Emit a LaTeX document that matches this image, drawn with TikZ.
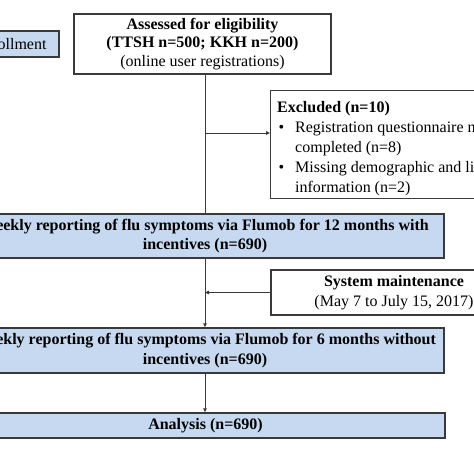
\documentclass[tikz,border=0pt]{standalone}
\usepackage{fontspec}
\setmainfont{Liberation Serif}
\usetikzlibrary{arrows.meta}
\definecolor{boxblue}{HTML}{C6D9F0}
\definecolor{linegray}{HTML}{3A3A3A}
\begin{document}
\begin{tikzpicture}[x=1pt,y=-1pt,
  basebox/.style={draw=linegray, line width=1.4pt, inner sep=0pt, align=center,
    font=\fontsize{16}{19.5}\selectfont},
  bluebox/.style={basebox, fill=boxblue},
  whitebox/.style={basebox, fill=white},
  conn/.style={draw=linegray, line width=1pt},
  arr/.style={conn, -{Triangle[length=4pt,width=3.6pt]}}]
\useasboundingbox (0,0) rectangle (474,474);
\fill[white] (0,0) rectangle (474,474);
\clip (0,0) rectangle (474,474);

\node[bluebox, minimum width=97, minimum height=26] (enr) at (10.5,44) {\raisebox{-1pt}{Enrollment}};

\node[whitebox, minimum width=257, minimum height=60] (top) at (202.5,44)
  {\raisebox{-2pt}{\shortstack{\textbf{Assessed for eligibility}\\[1pt]\textbf{(TTSH n=500; KKH n=200)}\\[1pt](online user registrations)}}};

\node[whitebox, minimum width=250, minimum height=108, anchor=north west] (excl) at (270,90) {};
\node[anchor=north west, align=left, inner sep=0pt, font=\fontsize{16}{19.8}\selectfont] (excltext) at (277,101.5)
  {\textbf{Excluded (n=10)}\\
   \makebox[18pt][l]{\hspace{1.5pt}\textbullet}Registration questionnaire not\\
   \hspace*{18pt}completed (n=8)\\
   \makebox[18pt][l]{\hspace{1.5pt}\textbullet}Missing demographic and lifestyle\\
   \hspace*{18pt}information (n=2)};

\node[bluebox, minimum width=478, minimum height=44] (wk12) at (205,236)
  {\textbf{Weekly reporting of flu symptoms via Flumob for 12 months with}\\\textbf{incentives (n=690)}};

\node[whitebox, minimum width=246, minimum height=45] (sys) at (394,292.5)
  {\textbf{System maintenance}\\(May 7 to July 15, 2017)};

\node[bluebox, minimum width=478, minimum height=45] (wk6) at (205,350.5)
  {\textbf{Weekly reporting of flu symptoms via Flumob for 6 months without}\\\textbf{incentives (n=690)}};

\node[bluebox, minimum width=479, minimum height=25] (ana) at (205.5,425.5)
  {\textbf{Analysis (n=690)}};

\coordinate (j1) at (205,133);
\draw[conn] (top.south -| wk12.north) -- (wk12.north);
\draw[arr] (j1) -- (j1 -| excl.west);
\draw[arr] (wk12.south) -- (wk6.north);
\draw[arr] (sys.west) -- (sys.west -| wk12.south);
\draw[arr] (wk6.south) -- (wk6.south |- ana.north);
\end{tikzpicture}
\end{document}
